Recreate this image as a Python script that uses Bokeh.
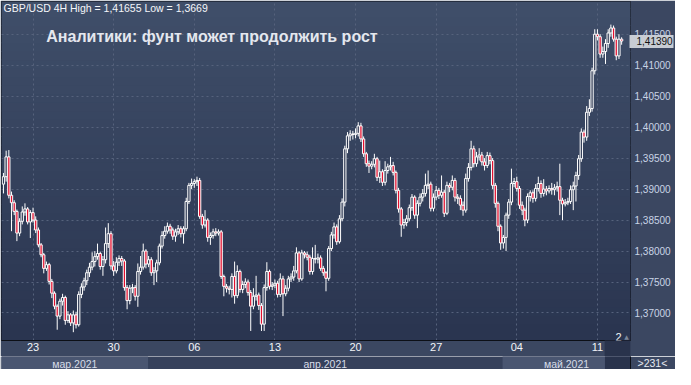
import numpy as np
from bokeh.plotting import figure
from bokeh.layouts import column
from bokeh.models import (Range1d, FixedTicker, LinearAxis, CustomJSTickFormatter,
                          Label, ColumnDataSource)
from bokeh.core.properties import value
from bokeh.embed import file_html
from bokeh.resources import INLINE

# ---------------- data (GBP/USD, 4H candles) ----------------
first_open = 1.3908
close = [
    1.3920, 1.3952, 1.3890, 1.3878, 1.3864, 1.3829, 1.3848, 1.3863, 1.3868, 1.3847,
    1.3862, 1.3850, 1.3834, 1.3810, 1.3794, 1.3772, 1.3778, 1.3751, 1.3732, 1.3711,
    1.3695, 1.3719, 1.3725, 1.3688, 1.3697, 1.3684, 1.3697, 1.3681, 1.3730, 1.3742,
    1.3752, 1.3765, 1.3774, 1.3783, 1.3791, 1.3796, 1.3775, 1.3786, 1.3812, 1.3828,
    1.3776, 1.3768, 1.3782, 1.3788, 1.3784, 1.3741, 1.3720, 1.3740, 1.3741, 1.3727,
    1.3767, 1.3774, 1.3800, 1.3779, 1.3786, 1.3765, 1.3768, 1.3781, 1.3808, 1.3825,
    1.3832, 1.3840, 1.3834, 1.3824, 1.3831, 1.3836, 1.3828, 1.3836, 1.3880, 1.3906,
    1.3909, 1.3912, 1.3914, 1.3856, 1.3842, 1.3850, 1.3822, 1.3825, 1.3831, 1.3829,
    1.3831, 1.3759, 1.3743, 1.3740, 1.3738, 1.3759, 1.3728, 1.3767, 1.3738, 1.3746,
    1.3750, 1.3733, 1.3711, 1.3727, 1.3729, 1.3712, 1.3682, 1.3741, 1.3767, 1.3743,
    1.3745, 1.3748, 1.3730, 1.3755, 1.3731, 1.3740, 1.3755, 1.3758, 1.3768, 1.3797,
    1.3755, 1.3797, 1.3794, 1.3790, 1.3767, 1.3788, 1.3787, 1.3789, 1.3772, 1.3765,
    1.3756, 1.3804, 1.3826, 1.3839, 1.3815, 1.3852, 1.3879, 1.3965, 1.3986, 1.3989,
    1.3988, 1.3990, 1.4002, 1.3981, 1.3957, 1.3941, 1.3937, 1.3940, 1.3949, 1.3919,
    1.3928, 1.3911, 1.3930, 1.3936, 1.3938, 1.3927, 1.3898, 1.3868, 1.3842, 1.3846,
    1.3852, 1.3870, 1.3887, 1.3858, 1.3877, 1.3887, 1.3893, 1.3906, 1.3908, 1.3869,
    1.3887, 1.3898, 1.3890, 1.3895, 1.3861, 1.3906, 1.3903, 1.3914, 1.3887, 1.3885,
    1.3874, 1.3866, 1.3917, 1.3935, 1.3965, 1.3941, 1.3952, 1.3955, 1.3944, 1.3938,
    1.3954, 1.3946, 1.3906, 1.3877, 1.3840, 1.3813, 1.3822, 1.3858, 1.3879, 1.3909,
    1.3912, 1.3901, 1.3874, 1.3866, 1.3850, 1.3888, 1.3894, 1.3885, 1.3901, 1.3909,
    1.3893, 1.3900, 1.3897, 1.3901, 1.3899, 1.3902, 1.3904, 1.3882, 1.3876, 1.3878,
    1.3880, 1.3899, 1.3905, 1.3922, 1.3949, 1.3992, 1.3984, 1.4024, 1.4030, 1.4091,
    1.4150, 1.4146, 1.4118, 1.4122, 1.4135, 1.4152, 1.4160, 1.4142, 1.4115, 1.4142,
    1.4139]
high = [
    1.3926, 1.3962, 1.3963, 1.3896, 1.3882, 1.3867, 1.3853, 1.3872, 1.3877, 1.3871,
    1.3866, 1.3870, 1.3856, 1.3838, 1.3813, 1.3797, 1.3783, 1.3781, 1.3755, 1.3735,
    1.3714, 1.3723, 1.3731, 1.3728, 1.3703, 1.3700, 1.3704, 1.3702, 1.3735, 1.3748,
    1.3757, 1.3770, 1.3781, 1.3798, 1.3800, 1.3812, 1.3799, 1.3792, 1.3838, 1.3845,
    1.3832, 1.3784, 1.3790, 1.3793, 1.3792, 1.3787, 1.3745, 1.3745, 1.3747, 1.3745,
    1.3780, 1.3792, 1.3812, 1.3803, 1.3792, 1.3790, 1.3774, 1.3786, 1.3812, 1.3832,
    1.3840, 1.3846, 1.3844, 1.3838, 1.3836, 1.3842, 1.3840, 1.3840, 1.3886, 1.3910,
    1.3917, 1.3916, 1.3920, 1.3918, 1.3860, 1.3866, 1.3853, 1.3830, 1.3836, 1.3837,
    1.3835, 1.3834, 1.3762, 1.3747, 1.3744, 1.3764, 1.3783, 1.3777, 1.3770, 1.3752,
    1.3756, 1.3754, 1.3737, 1.3740, 1.3760, 1.3733, 1.3716, 1.3746, 1.3782, 1.3770,
    1.3750, 1.3754, 1.3752, 1.3764, 1.3760, 1.3745, 1.3760, 1.3764, 1.3776, 1.3806,
    1.3800, 1.3802, 1.3800, 1.3799, 1.3794, 1.3806, 1.3810, 1.3796, 1.3793, 1.3776,
    1.3768, 1.3808, 1.3831, 1.3846, 1.3843, 1.3858, 1.3885, 1.3970, 1.3992, 1.3995,
    1.3994, 1.3998, 1.4008, 1.4007, 1.3985, 1.3960, 1.3946, 1.3945, 1.3957, 1.3952,
    1.3946, 1.3932, 1.3945, 1.3941, 1.3952, 1.3944, 1.3930, 1.3902, 1.3871, 1.3852,
    1.3858, 1.3875, 1.3892, 1.3890, 1.3882, 1.3893, 1.3900, 1.3925, 1.3930, 1.3912,
    1.3893, 1.3905, 1.3902, 1.3922, 1.3899, 1.3912, 1.3910, 1.3922, 1.3918, 1.3892,
    1.3890, 1.3880, 1.3925, 1.3942, 1.3978, 1.3970, 1.3960, 1.3966, 1.3960, 1.3950,
    1.3960, 1.3959, 1.3950, 1.3910, 1.3880, 1.3843, 1.3826, 1.3862, 1.3884, 1.3933,
    1.3918, 1.3920, 1.3905, 1.3880, 1.3870, 1.3893, 1.3898, 1.3898, 1.3908, 1.3920,
    1.3914, 1.3916, 1.3905, 1.3906, 1.3910, 1.3908, 1.3912, 1.3941, 1.3886, 1.3884,
    1.3886, 1.3906, 1.3912, 1.3928, 1.3955, 1.3998, 1.3996, 1.4034, 1.4045, 1.4096,
    1.4158, 1.4158, 1.4150, 1.4130, 1.4142, 1.4158, 1.41655, 1.4164, 1.4146, 1.4150,
    1.4145]
low = [
    1.3893, 1.3912, 1.3885, 1.3832, 1.3858, 1.3816, 1.3824, 1.3843, 1.3857, 1.3843,
    1.3821, 1.3846, 1.3829, 1.3806, 1.3790, 1.3764, 1.3768, 1.3746, 1.3724, 1.3706,
    1.3673, 1.3690, 1.3712, 1.3681, 1.3684, 1.3679, 1.3669, 1.3675, 1.3678, 1.3724,
    1.3736, 1.3745, 1.3758, 1.3769, 1.3775, 1.3786, 1.3770, 1.3760, 1.3780, 1.3805,
    1.3770, 1.3760, 1.3764, 1.3776, 1.3776, 1.3736, 1.3706, 1.3714, 1.3732, 1.3720,
    1.3710, 1.3762, 1.3770, 1.3772, 1.3774, 1.3760, 1.3745, 1.3750, 1.3777, 1.3804,
    1.3820, 1.3828, 1.3828, 1.3818, 1.3815, 1.3826, 1.3822, 1.3812, 1.3832, 1.3876,
    1.3900, 1.3902, 1.3905, 1.3852, 1.3836, 1.3838, 1.3815, 1.3810, 1.3820, 1.3824,
    1.3825, 1.3755, 1.3727, 1.3733, 1.3730, 1.3725, 1.3715, 1.3724, 1.3733, 1.3732,
    1.3740, 1.3728, 1.3671, 1.3706, 1.3720, 1.3705, 1.3671, 1.3671, 1.3736, 1.3738,
    1.3737, 1.3740, 1.3725, 1.3726, 1.3695, 1.3727, 1.3735, 1.3750, 1.3752, 1.3764,
    1.3750, 1.3752, 1.3788, 1.3785, 1.3762, 1.3762, 1.3780, 1.3780, 1.3768, 1.3760,
    1.3735, 1.3752, 1.3800, 1.3820, 1.3810, 1.3812, 1.3848, 1.3872, 1.3958, 1.3978,
    1.3980, 1.3982, 1.3985, 1.3976, 1.3952, 1.3936, 1.3926, 1.3932, 1.3935, 1.3913,
    1.3910, 1.3905, 1.3906, 1.3925, 1.3930, 1.3922, 1.3893, 1.3862, 1.3823, 1.3836,
    1.3840, 1.3848, 1.3865, 1.3852, 1.3837, 1.3872, 1.3880, 1.3888, 1.3900, 1.3864,
    1.3864, 1.3882, 1.3884, 1.3886, 1.3855, 1.3858, 1.3895, 1.3898, 1.3880, 1.3876,
    1.3866, 1.3857, 1.3862, 1.3912, 1.3930, 1.3935, 1.3936, 1.3946, 1.3938, 1.3930,
    1.3934, 1.3940, 1.3900, 1.3870, 1.3832, 1.3802, 1.3804, 1.3800, 1.3852, 1.3874,
    1.3903, 1.3896, 1.3868, 1.3858, 1.3840, 1.3845, 1.3880, 1.3878, 1.3880, 1.3896,
    1.3886, 1.3888, 1.3890, 1.3893, 1.3891, 1.3890, 1.3896, 1.3858, 1.3850, 1.3872,
    1.3874, 1.3876, 1.3866, 1.3880, 1.3915, 1.3944, 1.3975, 1.3978, 1.4018, 1.4025,
    1.4085, 1.4140, 1.4112, 1.4112, 1.4102, 1.4128, 1.4146, 1.4138, 1.4108, 1.4110,
    1.4133]

day_tick_index = [11, 41, 71, 101, 131, 161, 191, 221]
day_tick_labels = ["23", "30", "06", "13", "20", "27", "04", "11"]
month_start_index = [-0.7, 53.8, 185.7]
month_labels = ["мар.2021", "апр.2021", "май.2021"]
price_ticks = [1.370, 1.375, 1.380, 1.385, 1.390, 1.395, 1.400, 1.405, 1.410, 1.415]
symbol = "GBP/USD 4H"
title_text = "Аналитики: фунт может продолжить рост"
scroll_start_index = 223.8

# ---------------- derived ----------------
n = len(close)
open_ = [first_open] + close[:-1]
idx = list(range(n))
last_price = close[-1]


def fmt(v, trim=False):
    s = "%.5f" % v
    if trim:
        s = s.rstrip("0")
    return s.replace(".", ",")


W, H_MAIN, H_BAND = 675, 356, 13
BORDER_L, BORDER_T, BORDER_R, BORDER_B = 1, 1, 42, 16
x_start, x_end = -0.73, 233.3
y_start, y_end = 1.36556, 1.42028
frame_w = W - BORDER_L - BORDER_R
frame_h = H_MAIN - BORDER_T - BORDER_B
dx = (x_end - x_start) / frame_w
dy = (y_end - y_start) / frame_h

BG_BORDER = "#3b4761"
SCROLL = "#29334c"
RED = "#e3102f"
FONT = "Liberation Sans"

p = figure(width=W, height=H_MAIN,
           x_range=Range1d(x_start, x_end), y_range=Range1d(y_start, y_end),
           y_axis_location="right", output_backend="svg", toolbar_location=None,
           min_border_left=BORDER_L, min_border_top=BORDER_T,
           min_border_right=BORDER_R, min_border_bottom=BORDER_B,
           background_fill_color="#34405b", border_fill_color=BG_BORDER,
           outline_line_color="#0c0f16", outline_line_width=1)

# vertical gradient of the plot background
N = 40
edges = np.linspace(y_start - dy, y_end + dy, N + 1)
top_rgb = np.array([64, 79, 106])
bot_rgb = np.array([42, 53, 80])
cols = []
for k in range(N):
    t = (k + 0.5) / N
    r, g, b_ = (bot_rgb + (top_rgb - bot_rgb) * t).astype(int)
    cols.append("#%02x%02x%02x" % (r, g, b_))
p.quad(left=x_start - 5, right=x_end + 5, bottom=edges[:-1], top=edges[1:] + dy * 0.6,
       fill_color=cols, line_color=None, level="image")

# grids
p.xgrid.ticker = FixedTicker(ticks=day_tick_index)
p.ygrid.ticker = FixedTicker(ticks=price_ticks)
for g in (p.xgrid[0], p.ygrid[0]):
    g.grid_line_color = "#56627c"
    g.grid_line_dash = "2 3"
    g.grid_line_width = 1

# candles
body_top = [max(o, c) for o, c in zip(open_, close)]
body_bot = [min(o, c) for o, c in zip(open_, close)]
fill = ["#2f3a54" if c >= o else RED for o, c in zip(open_, close)]
src = ColumnDataSource(dict(x=idx, h=high, l=low, top=body_top, bot=body_bot, fill=fill))
p.segment(x0="x", y0="l", x1="x", y1="h", source=src, line_color="#ffffff", line_width=1)
p.vbar(x="x", width=0.85, top="top", bottom="bot", source=src,
       fill_color="fill", line_color="#ffffff", line_width=1)

price_code = "return tick.toFixed(5).replace('.', ',');"

# right price axis
ya = p.yaxis[0]
ya.ticker = FixedTicker(ticks=price_ticks)
ya.formatter = CustomJSTickFormatter(code=price_code)
ya.major_label_text_font = FONT
ya.major_label_text_font_size = "10px"
ya.major_label_text_color = "#c9d4e6"
ya.major_label_standoff = 4
ya.axis_line_color = None
ya.major_tick_line_color = None
ya.minor_tick_line_color = None
ya.major_tick_out = 0
ya.major_tick_in = 0

# current price marker: an outer axis whose minor tick forms the light box
ma_price = LinearAxis(ticker=FixedTicker(ticks=[last_price], minor_ticks=[last_price]),
                      formatter=CustomJSTickFormatter(code=price_code))
ma_price.axis_line_color = None
ma_price.major_tick_line_color = None
ma_price.major_tick_out = 0
ma_price.major_tick_in = 0
ma_price.minor_tick_in = 44
ma_price.minor_tick_out = 0
ma_price.minor_tick_line_width = 13
ma_price.minor_tick_line_color = "#c7ccd4"
ma_price.major_label_standoff = -37
ma_price.major_label_text_font = FONT
ma_price.major_label_text_font_size = "10px"
ma_price.major_label_text_color = "#111111"
p.add_layout(ma_price, "right")

# bottom day axis (its minor tick draws the dark scroll box at the right end)
scroll_mid = (scroll_start_index + x_end) / 2
scroll_px = (x_end - scroll_start_index) / dx
xa = p.xaxis[0]
xa.ticker = FixedTicker(ticks=day_tick_index, minor_ticks=[scroll_mid])
xa.major_label_overrides = {i: s for i, s in zip(day_tick_index, day_tick_labels)}
xa.major_label_text_font = FONT
xa.major_label_text_font_size = "11px"
xa.major_label_text_color = "#f2f4f8"
xa.major_label_standoff = 2 - BORDER_B
xa.axis_line_color = "#0c0f16"
xa.major_tick_line_color = None
xa.major_tick_out = 0
xa.major_tick_in = 0
xa.minor_tick_line_color = SCROLL
xa.minor_tick_line_width = scroll_px
xa.minor_tick_in = 0
xa.minor_tick_out = BORDER_B

# texts inside the plot
p.add_layout(Label(x=x_start + 2 * dx, y=y_end - 6 * dy,
                   text="%s  High = %s Low = %s" % (symbol, fmt(max(high), True), fmt(min(low), True)),
                   text_font=FONT, text_font_size="10.5px", text_color="#f4f6fa",
                   text_baseline="middle"))
p.add_layout(Label(x=x_start + 45 * dx, y=y_end - 35 * dy, text=title_text,
                   text_font=FONT, text_font_style="bold", text_font_size="16px",
                   text_color="#e4e7ee", text_baseline="middle"))
p.add_layout(Label(x=x_end - 12 * dx, y=y_start + 4 * dy, text="2",
                   text_font=FONT, text_font_size="11px", text_color="#f0f2f6",
                   text_baseline="middle", text_align="center"))
p.add_layout(Label(x=x_end - 4 * dx, y=y_start + 4 * dy, text="▲",
                   text_font="DejaVu Sans", text_font_size="6px", text_color="#7d889c",
                   text_baseline="middle", text_align="center"))

# ---------------- month band (second figure; frames are aligned) ----------------
b = figure(width=W, height=H_BAND, x_range=Range1d(x_start, x_end), y_range=Range1d(0, 1),
           x_axis_type=None, y_axis_type=None, output_backend="svg", toolbar_location=None,
           min_border_left=BORDER_L, min_border_right=BORDER_R, min_border_top=0,
           min_border_bottom=0, background_fill_color="#36415b", border_fill_color=BG_BORDER,
           outline_line_color=None)
b.grid.visible = False
month_end = month_start_index[1:] + [x_end]
month_mid = [(a + c) / 2 for a, c in zip(month_start_index, month_end)]
box_left = [month_start_index[k] for k in (0, 2)]
box_right = [month_end[k] for k in (0, 2)]
b.quad(left=box_left, right=box_right, bottom=-1, top=2, fill_color="#4a5671", line_color=None)
b.quad(left=[scroll_start_index], right=[x_end + 1], bottom=-1, top=2, fill_color=SCROLL,
       line_color=None)
b.text(x=month_mid, y=[0.45] * len(month_mid), text=month_labels,
       text_font=value(FONT), text_font_size=value("10.5px"), text_color="#d6dce8",
       text_align="center", text_baseline="middle")
# bar counter in the right panel, as the band's right axis label
bar_axis = LinearAxis(ticker=FixedTicker(ticks=[0.5]),
                      formatter=CustomJSTickFormatter(args=dict(t=">%d<" % n), code="return t;"))
bar_axis.axis_line_color = "#0c0f16"
bar_axis.major_tick_line_color = None
bar_axis.minor_tick_line_color = None
bar_axis.major_tick_out = 0
bar_axis.major_tick_in = 0
bar_axis.major_label_standoff = 7
bar_axis.major_label_text_font = FONT
bar_axis.major_label_text_font_size = "10.5px"
bar_axis.major_label_text_color = "#e6eaf2"
b.add_layout(bar_axis, "right")

layout = column(p, b, spacing=0)
open("out.html", "w").write(file_html(layout, INLINE))
